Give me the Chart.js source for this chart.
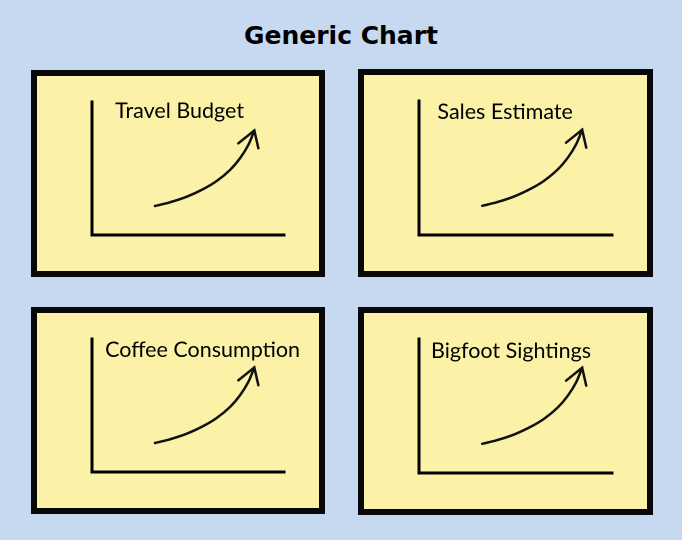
<!DOCTYPE html>
<html>
<head>
<meta charset="utf-8">
<script src="https://cdn.jsdelivr.net/npm/chart.js@4/dist/chart.umd.min.js"></script>
<style>
    html, body { margin: 0; padding: 0; }
    body { width: 682px; height: 540px; background: #c6d9f1; position: relative; overflow: hidden; font-family: Lato, "Open Sans", sans-serif; }
    h1 { position: absolute; left: 0; top: 20px; width: 682px; margin: 0; text-align: center; font-family: "DejaVu Sans", sans-serif; font-size: 25px; font-weight: bold; color: #000; line-height: 32px; }
    .panel { position: absolute; box-sizing: border-box; border: 6px solid #080808; background: #fbf2a7; }
    .panel canvas { display: block; }
</style>
</head>
<body>
<h1>Generic Chart</h1>
<div class="panel" style="left:31px;top:70px;width:294px;height:207px"><canvas id="c0"></canvas></div>
<div class="panel" style="left:358px;top:69px;width:295px;height:208px"><canvas id="c1"></canvas></div>
<div class="panel" style="left:31px;top:307px;width:294px;height:207px"><canvas id="c2"></canvas></div>
<div class="panel" style="left:358px;top:307px;width:295px;height:208px"><canvas id="c3"></canvas></div>
<script>
// panel titles
const titles = ['Travel Budget', 'Sales Estimate', 'Coffee Consumption', 'Bigfoot Sightings'];
// where each title starts, in axis units (0..10)
const titleX = [1.2, 0.95, 0.68, 0.62];
const titleY = [8.8, 8.65, 8.65, 8.6];

// the rising curve, same sketch in every panel
const curveX = [3.26, 4.04, 4.91, 5.77, 6.46, 7.15, 7.67, 8.10, 8.41];
const curveY = [2.18, 2.46, 2.88, 3.46, 4.06, 4.89, 5.77, 6.77, 7.86];
// arrow head: left wing, tip, right wing
const headX = [7.58, 8.41, 8.62];
const headY = [6.89, 7.86, 6.52];

const titlePlugin = {
    id: 'panelTitle',
    afterDatasetsDraw(chart, args, opts) {
        const ctx = chart.ctx;
        ctx.save();
        ctx.font = '21.5px Lato, "Open Sans", sans-serif';
        ctx.fillStyle = '#000';
        ctx.textAlign = 'left';
        ctx.textBaseline = 'alphabetic';
        ctx.fillText(opts.text, chart.scales.x.getPixelForValue(opts.x), chart.scales.y.getPixelForValue(opts.y));
        ctx.restore();
    }
};

titles.forEach((title, i) => {
    let $canvas = document.getElementById('c' + i);
    let box = $canvas.parentNode;
    $canvas.style.width = (box.clientWidth) + 'px';
    $canvas.style.height = (box.clientHeight) + 'px';

    new Chart($canvas, {
        type: 'line',
        data: {
            datasets: [{
                data: curveX.map((x, k) => ({ x: x, y: curveY[k] })),
                borderColor: '#111',
                borderWidth: 2.5,
                tension: 0.4,
                pointRadius: 0,
                borderCapStyle: 'round'
            }, {
                data: headX.map((x, k) => ({ x: x, y: headY[k] })),
                borderColor: '#111',
                borderWidth: 2.5,
                tension: 0,
                pointRadius: 0,
                borderCapStyle: 'round',
                borderJoinStyle: 'miter'
            }]
        },
        plugins: [titlePlugin],
        options: {
            responsive: false,
            animation: false,
            devicePixelRatio: 2,
            layout: {
                padding: { left: 47, right: 34, top: 26, bottom: 28 }
            },
            scales: {
                x: {
                    type: 'linear',
                    min: 0,
                    max: 10,
                    grid: { display: false },
                    ticks: { display: false },
                    border: { display: true, color: '#000', width: 3 }
                },
                y: {
                    type: 'linear',
                    min: 0,
                    max: 10,
                    grid: { display: false },
                    ticks: { display: false },
                    border: { display: true, color: '#000', width: 3 }
                }
            },
            plugins: {
                legend: { display: false },
                tooltip: { enabled: false },
                panelTitle: { text: title, x: titleX[i], y: titleY[i] }
            }
        }
    });
});
</script>
</body>
</html>
